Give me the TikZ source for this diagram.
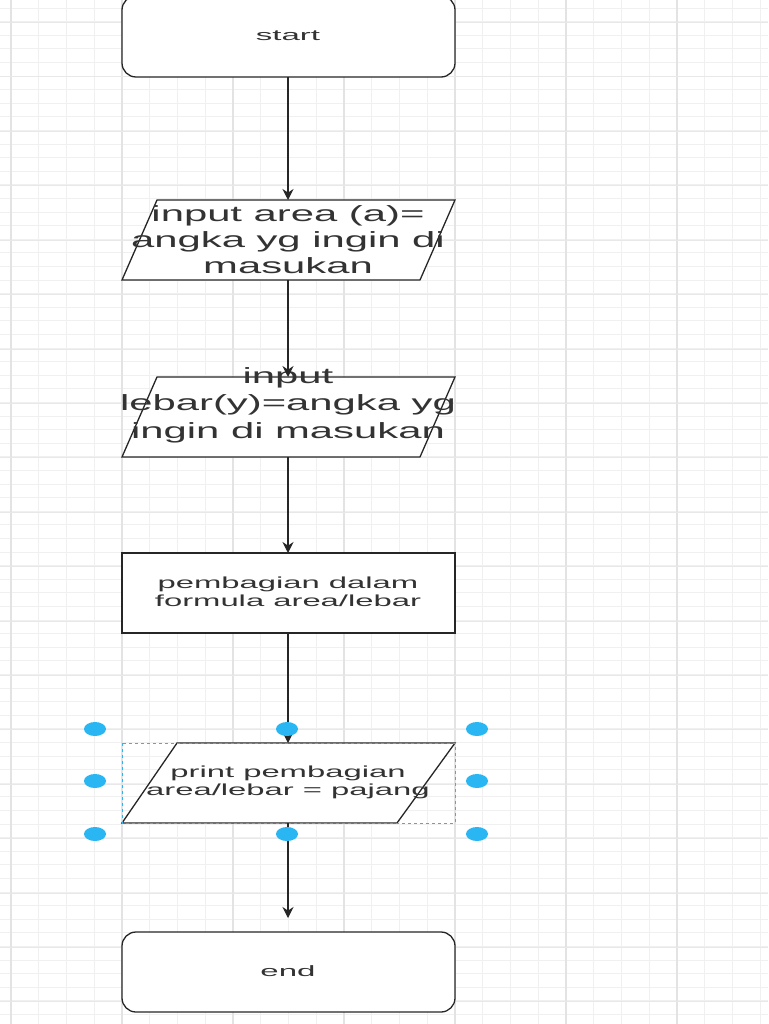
\documentclass[tikz,border=0pt]{standalone}
\usepackage{fontspec}
\setmainfont{Liberation Sans}
\usetikzlibrary{arrows.meta}
\definecolor{hand}{HTML}{29B6F2}
\tikzset{
  box/.style={draw=black!85,line width=1.3pt,fill=white},
  txt/.style={text=black!80,align=center,inner sep=0pt},
  arr/.style={draw=black!85,line width=1.3pt,-{Stealth[length=11pt,width=11pt]}},
  handle/.style={fill=hand,draw=none},
}
\newcommand{\wa}[1]{\scalebox{1.9}[1]{#1}}
\newcommand{\wb}[1]{\scalebox{2.05}[1]{#1}}
\newcommand{\wc}[1]{\scalebox{2.2}[1]{#1}}
\begin{document}
\begin{tikzpicture}[x=1pt,y=-1pt]
\useasboundingbox (0,0) rectangle (768,1024);
\fill[white] (0,0) rectangle (768,1024);
% grid
\foreach \i in {-4,...,23} {\draw[black!6,line width=0.8pt] ({122+27.75*\i},0) -- ({122+27.75*\i},1024);}
\foreach \i in {-1,...,75} {\draw[black!6,line width=0.8pt] (0,{8+13.6*\i}) -- (768,{8+13.6*\i});}
\foreach \i in {-1,...,6} {\draw[black!11,line width=1.2pt] ({122+111*\i},0) -- ({122+111*\i},1024);}
\foreach \i in {0,...,19} {\draw[black!9,line width=1pt] (0,{22.6+54.4*\i}) -- (768,{22.6+54.4*\i});}
% shapes
\draw[box,rounded corners=14pt] (122,-4) rectangle (455,77);
\node[txt,font=\fontsize{15}{17}\selectfont] (start) at (288,36) {\wc{start}};
\coordinate (s) at (288,77);
\draw[box] (157,200) -- (455,200) -- (420,280) -- (122,280) -- cycle;
\node[txt,font=\fontsize{22}{26}\selectfont] (in1) at (288,240) {\wa{input area (a)=}\\\wa{angka yg ingin di}\\\wa{masukan}};
\draw[box] (157,377) -- (455,377) -- (420,457) -- (122,457) -- cycle;
\node[txt,font=\fontsize{22}{27.5}\selectfont] (in2) at (288,405) {\wa{input}\\\wa{lebar(y)=angka yg}\\\wa{ingin di masukan}};
\draw[box] (122,553) rectangle (455,633);
\node[txt,font=\fontsize{16}{18}\selectfont] (proc) at (288,592) {\wb{pembagian dalam}\\\wb{formula area/lebar}};
\draw[box] (177,743) -- (455,743) -- (397,823) -- (122,823) -- cycle;
\draw[hand,line width=1pt,dashed] (122,743) rectangle (455,823);
\node[txt,font=\fontsize{16}{18}\selectfont] (pr) at (288,782) {\wb{print pembagian}\\\wb{area/lebar = pajang}};
\draw[box,rounded corners=14pt] (122,932) rectangle (455,1012);
\node[txt,font=\fontsize{15}{17}\selectfont] (end) at (288,971) {\wc{end}};
% arrows
\coordinate (a1) at (288,200); \coordinate (b1) at (288,280);
\coordinate (a2) at (288,377); \coordinate (b2) at (288,457);
\coordinate (a3) at (288,553); \coordinate (b3) at (288,633);
\coordinate (a4) at (288,743); \coordinate (b4) at (288,823);
\coordinate (a5) at (288,918);
\draw[arr] (s) -- (a1);
\draw[arr] (b1) -- (a2);
\draw[arr] (b2) -- (a3);
\draw[arr] (b3) -- (a4);
\draw[arr] (b4) -- (a5);
% handles
\foreach \x in {95,287,477} \foreach \y in {729,781,834} {
  \ifnum\x=287 \ifnum\y=781 \else \fill[handle] (\x,\y) ellipse (11pt and 7pt); \fi
  \else \fill[handle] (\x,\y) ellipse (11pt and 7pt); \fi}
\end{tikzpicture}
\end{document}
